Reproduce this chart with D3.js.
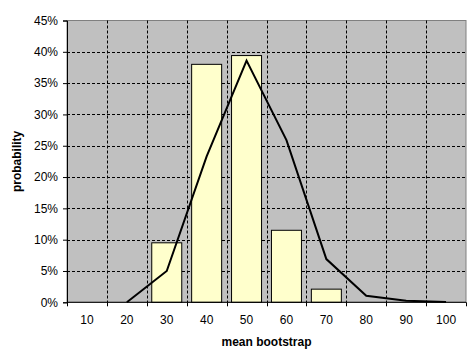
<!DOCTYPE html>
<html><head><meta charset="utf-8">
<script src="https://cdn.jsdelivr.net/npm/d3@7"></script>
<style>body{margin:0;background:#fff;} text{font-family:"Liberation Sans",Arial,sans-serif;}</style>
</head><body>
<svg id="chart" width="474" height="356"></svg>
<script>
const categories = ["10","20","30","40","50","60","70","80","90","100"];
const barValues = [0, 0, 9.5, 38.0, 39.4, 11.5, 2.1, 0, 0, 0];
const lineValues = [null, 0, 5.0, 23.3, 38.6, 25.9, 6.9, 1.05, 0.25, 0.05];
const yTicks = [0,5,10,15,20,25,30,35,40,45];

const svg = d3.select("#chart");
const m = {left:67, right:466, top:20.5, bottom:302.3};
const x = d3.scaleBand().domain(categories).range([m.left, m.right]).paddingInner(0).paddingOuter(0);
const y = d3.scaleLinear().domain([0,45]).range([m.bottom, m.top]);
const barW = x.bandwidth()/1.33;

// plot background
svg.append("rect").attr("x", m.left).attr("y", m.top).attr("width", m.right-m.left).attr("height", m.bottom-m.top)
  .attr("fill", "#c0c0c0").attr("stroke", "#808080").attr("stroke-width", 1);

// grid
const g = svg.append("g");
g.selectAll(".hg").data(yTicks.filter(d => d>0 && d<45)).enter().append("line")
  .attr("x1", m.left).attr("x2", m.right).attr("y1", d => Math.round(y(d))+0.5).attr("y2", d => Math.round(y(d))+0.5)
  .attr("stroke", "#000").attr("stroke-width", 1).attr("stroke-dasharray", "3,2");
g.selectAll(".vg").data(categories.slice(1)).enter().append("line")
  .attr("x1", d => Math.round(x(d))+0.5).attr("x2", d => Math.round(x(d))+0.5).attr("y1", m.top).attr("y2", m.bottom)
  .attr("stroke", "#000").attr("stroke-width", 1).attr("stroke-dasharray", "3,2");

// bars
svg.selectAll(".bar").data(categories.map((c,i)=>({c, v:barValues[i]})).filter(d=>d.v>0)).enter().append("rect")
  .attr("x", d => x(d.c) + (x.bandwidth()-barW)/2)
  .attr("y", d => y(d.v))
  .attr("width", barW)
  .attr("height", d => y(0)-y(d.v))
  .attr("fill", "#ffffcc").attr("stroke", "#000").attr("stroke-width", 1);

// line
const lineData = categories.map((c,i)=>({c, v:lineValues[i]}));
const line = d3.line().defined(d => d.v !== null).x(d => x(d.c)+x.bandwidth()/2).y(d => y(d.v));
svg.append("path").datum(lineData).attr("d", line).attr("fill","none").attr("stroke","#000").attr("stroke-width",2);

// axes
const yAxis = d3.axisLeft(y).tickValues(yTicks).tickFormat(d => d + "%").tickSize(4).tickPadding(5);
const ya = svg.append("g").attr("transform", `translate(${m.left},0)`).call(yAxis);
ya.select(".domain").attr("stroke","#000");
ya.selectAll("text").attr("font-size", 12).attr("fill","#000").attr("font-family","Liberation Sans, Arial, sans-serif");

const xa = svg.append("g").attr("transform", `translate(0,${m.bottom})`);
xa.append("line").attr("x1", m.left).attr("x2", m.right).attr("y1", 0).attr("y2", 0).attr("stroke","#000");
xa.selectAll(".xt").data(categories.map(c => x(c)).concat([m.right])).enter().append("line")
  .attr("x1", d => Math.round(d)+0.5).attr("x2", d => Math.round(d)+0.5).attr("y1", 0).attr("y2", 4).attr("stroke","#000");
xa.selectAll(".xl").data(categories).enter().append("text")
  .attr("x", d => x(d)+x.bandwidth()/2).attr("y", 22).attr("text-anchor","middle")
  .attr("font-size", 12).attr("fill","#000").text(d => d);

// titles
svg.append("text").attr("x", (m.left+m.right)/2).attr("y", 346).attr("text-anchor","middle")
  .attr("font-size", 12).attr("font-weight","bold").text("mean bootstrap");
svg.append("text").attr("transform", `translate(21,${(m.top+m.bottom)/2}) rotate(-90)`).attr("text-anchor","middle")
  .attr("font-size", 12).attr("font-weight","bold").text("probability");
</script>
</body></html>
